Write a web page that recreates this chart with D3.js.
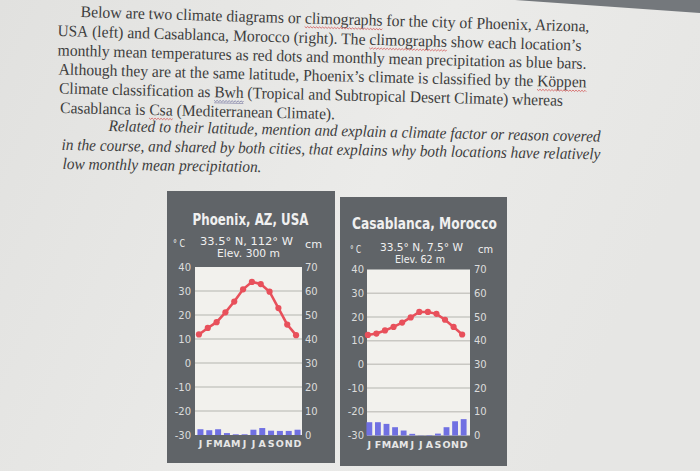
<!DOCTYPE html>
<html><head><meta charset="utf-8">
<script src="https://cdn.jsdelivr.net/npm/d3@7"></script>
<style>html,body{margin:0;padding:0;background:#e7e7e5;}svg{display:block;}</style>
</head><body>
<svg id="c" width="700" height="471"></svg>
<script>
// ---------- data ----------
const months = ["J","F","M","A","M","J","J","A","S","O","N","D"];
const phoenixTemp   = [11.9, 14.6, 17.0, 21.1, 25.6, 30.7, 33.8, 32.9, 29.7, 22.9, 16.0, 11.6];
const phoenixPrecip = [2.4, 2.0, 2.4, 0.8, 0.3, 0.3, 2.2, 2.9, 1.8, 1.7, 1.7, 2.2];
const casaTemp      = [12.4, 13.0, 14.3, 15.8, 17.6, 19.8, 22.1, 22.1, 21.3, 18.8, 15.8, 12.6];
const casaPrecip    = [5.6, 5.6, 4.9, 3.5, 2.1, 0.7, 0.1, 0.2, 0.8, 3.5, 6.0, 6.9];
const tempTicks   = [40, 30, 20, 10, 0, -10, -20, -30];
const precipTicks = [70, 60, 50, 40, 30, 20, 10, 0];
const titles = ["Phoenix, AZ, USA", "Casablanca, Morocco"];
const coords = ["33.5° N, 112° W", "33.5° N, 7.5° W"];
const elevs  = ["Elev. 300 m", "Elev. 62 m"];
const paragraph = [
  "Below are two climate diagrams or climographs for the city of Phoenix, Arizona,",
  "USA (left) and Casablanca, Morocco (right). The climographs show each location’s",
  "monthly mean temperatures as red dots and monthly mean precipitation as blue bars.",
  "Although they are at the same latitude, Phoenix’s climate is classified by the Köppen",
  "Climate classification as Bwh (Tropical and Subtropical Desert Climate) whereas",
  "Casablanca is Csa (Mediterranean Climate).",
  "Related to their latitude, mention and explain a climate factor or reason covered",
  "in the course, and shared by both cities, that explains why both locations have relatively",
  "low monthly mean precipitation."
];

// ---------- layout ----------
const svg = d3.select("#c");
const defs = svg.append("defs");
const bg = defs.append("linearGradient").attr("id","bg").attr("x1","0").attr("x2","1").attr("y1","0").attr("y2","0.3");
bg.append("stop").attr("offset","0").attr("stop-color","#e1e1df");
bg.append("stop").attr("offset","0.6").attr("stop-color","#ebebe9");
bg.append("stop").attr("offset","1").attr("stop-color","#e6e6e4");
svg.append("rect").attr("width",700).attr("height",471).attr("fill","url(#bg)");
svg.append("path").attr("d","M515,0 L700,0 L700,13 Z").attr("fill","#74787c");

// paragraph lines: [x, y, width, angle, italic]
const lineLayout = [
  [80.5, 17, 509, 1.65, false],
  [57.5, 36, 524, 1.6, false],
  [57.5, 55.5, 529, 1.45, false],
  [58.5, 74.5, 528, 1.4, false],
  [59, 93.5, 504, 1.4, false],
  [60, 113, 275, 1.3, false],
  [108.5, 131, 492, 1.25, true],
  [61.5, 150, 539, 1.0, true],
  [62.5, 169, 199, 0.9, true]
];
const underlines = [[0,"climographs","#d24a4a"],[1,"climographs","#d24a4a"],[3,"Köppen","#d24a4a"],[4,"Bwh","#6a6a9a"],[5,"Csa","#d24a4a"]];
const serif = "'Liberation Serif', 'Times New Roman', serif";
const lineGroups = paragraph.map((t,i) => {
  const [x,y,w,a,it] = lineLayout[i];
  const g = svg.append("g").attr("transform",`translate(${x},${y}) rotate(${a})`);
  const full = g.append("text").attr("x",0).attr("y",0)
    .attr("font-family",serif).attr("font-size",16.2).attr("font-style", it ? "italic" : "normal")
    .attr("textLength",w).attr("lengthAdjust","spacingAndGlyphs").text(t);
  const node = full.node();
  // split into words placed at the measured positions
  const words = [];
  let re = /\S+/g, m;
  while ((m = re.exec(t)) !== null) {
    const s = node.getStartPositionOfChar(m.index).x;
    const e = node.getEndPositionOfChar(m.index + m[0].length - 1).x;
    words.push({w:m[0], x:s, len:e - s, idx:m.index});
  }
  g.selectAll(".word").data(words).join("text").attr("class","word")
    .attr("x",d=>d.x).attr("y",0)
    .attr("font-family",serif).attr("font-size",16.2).attr("font-style", it ? "italic" : "normal")
    .attr("fill","#3d3d3d").attr("textLength",d=>d.len).attr("lengthAdjust","spacingAndGlyphs")
    .text(d=>d.w);
  g.datum(words);
  full.remove();
  return g;
});
underlines.forEach(([li,word,col]) => {
  const g = lineGroups[li];
  const wd = g.datum().find(d => d.w.replace(/[^\wö]/g,"") === word);
  const x0 = wd.x, x1 = wd.x + wd.len;
  let d = `M${x0},3`;
  for (let x = x0, k = 0; x < x1; x += 1.5, k++) d += ` L${Math.min(x+1.5,x1)},${k%2 ? 3 : 4.3}`;
  g.append("path").attr("d",d).attr("fill","none").attr("stroke",col).attr("stroke-width",0.9).attr("opacity",0.8);
  if (word === "Bwh") g.append("path").attr("d",`M${x0},5.5 L${x1},5.5`).attr("stroke",col).attr("stroke-width",0.8).attr("opacity",0.7);
});

// ---------- charts ----------
const charts = [
  {box:[167,191,335,463], plot:[195,267,302,435], bands:[197,301], temp:phoenixTemp, prec:phoenixPrecip,
   title:[250.5,225,116], coord:[246.5,245,93], elev:[248.5,257,63], degc:[173,247,12], cm:[305,248,17],
   lx:191, rx:305, mb:447},
  {box:[340,197,507,466], plot:[367,269.5,470,435.5], bands:[366,467], temp:casaTemp, prec:casaPrecip,
   title:[424.5,229,145], coord:[421.5,251,83], elev:[420,263,50], degc:[350,253,11], cm:[478,253,15],
   lx:364, rx:474, mb:448}
];
const sans = "'DejaVu Sans', Verdana, sans-serif";
const fmt = d => String(d);
charts.forEach((c,ci) => {
  const g = svg.append("g");
  g.append("rect").attr("x",c.box[0]).attr("y",c.box[1]).attr("width",c.box[2]-c.box[0]).attr("height",c.box[3]-c.box[1]).attr("fill","#606468");
  const [px0,py0,px1,py1] = c.plot;
  g.append("rect").attr("x",px0).attr("y",py0).attr("width",px1-px0).attr("height",py1-py0).attr("fill","#f2f1ed");
  const yT = d3.scaleLinear().domain([-30,40]).range([py1,py0]);
  const yP = d3.scaleLinear().domain([0,70]).range([py1,py0]);
  const x = d3.scaleBand().domain(d3.range(12)).range(c.bands).paddingInner(0.32).paddingOuter(0.05);
  // grid
  g.selectAll(".grid").data(tempTicks.filter(t => t > -30 && t < 40)).join("line")
    .attr("x1",px0).attr("x2",px1).attr("y1",d=>yT(d)).attr("y2",d=>yT(d))
    .attr("stroke","#c9c8c3").attr("stroke-width",1.5);
  // axis labels
  const axL = g.append("g").attr("transform",`translate(${c.lx},0)`)
    .call(d3.axisLeft(yT).tickValues(tempTicks).tickSize(0).tickPadding(0).tickFormat(fmt));
  axL.select(".domain").remove();
  axL.selectAll("text").attr("font-family",sans).attr("font-size",10).attr("fill","#dcdcdc");
  const axR = g.append("g").attr("transform",`translate(${c.rx},0)`)
    .call(d3.axisRight(yP).tickValues(precipTicks).tickSize(0).tickPadding(0).tickFormat(fmt));
  axR.select(".domain").remove();
  axR.selectAll("text").attr("font-family",sans).attr("font-size",10).attr("fill","#dcdcdc");
  // bars
  g.selectAll(".bar").data(c.prec).join("rect")
    .attr("x",(d,i)=>x(i)).attr("width",x.bandwidth())
    .attr("y",d=>yP(d)).attr("height",d=>yP(0)-yP(d)).attr("fill","#7070e2");
  // temperature line
  const cx = i => x(i) + x.bandwidth()/2 - 1.5;
  g.append("path").datum(c.temp).attr("fill","none").attr("stroke","#e8505b").attr("stroke-width",2.6)
    .attr("d", d3.line().x((d,i)=>cx(i)).y(d=>yT(d)));
  g.selectAll(".dot").data(c.temp).join("circle")
    .attr("cx",(d,i)=>cx(i)).attr("cy",d=>yT(d)).attr("r",3.1).attr("fill","#e8505b");
  // month letters
  g.selectAll(".mon").data(months).join("text")
    .attr("x",(d,i)=>x(i)+x.bandwidth()/2).attr("y",c.mb).attr("text-anchor","middle")
    .attr("font-family",sans).attr("font-size",9.5).attr("font-weight","bold").attr("fill","#e6e6e6").text(d=>d);
  // headers
  const txt = (arr, s, size, weight, anchor) => g.append("text").attr("x",arr[0]).attr("y",arr[1])
    .attr("text-anchor",anchor).attr("font-family",sans).attr("font-size",size).attr("font-weight",weight)
    .attr("fill","#f0f0f0").attr("textLength",arr[2]).attr("lengthAdjust","spacingAndGlyphs").text(s);
  txt(c.title, titles[ci], 15, "bold", "middle");
  txt(c.coord, coords[ci], 10, "normal", "middle");
  txt(c.elev, elevs[ci], 10, "normal", "middle");
  txt(c.degc, "° C", 10.5, "normal", "start");
  txt(c.cm, "cm", 10.5, "normal", "start");
});
</script>
</body></html>
